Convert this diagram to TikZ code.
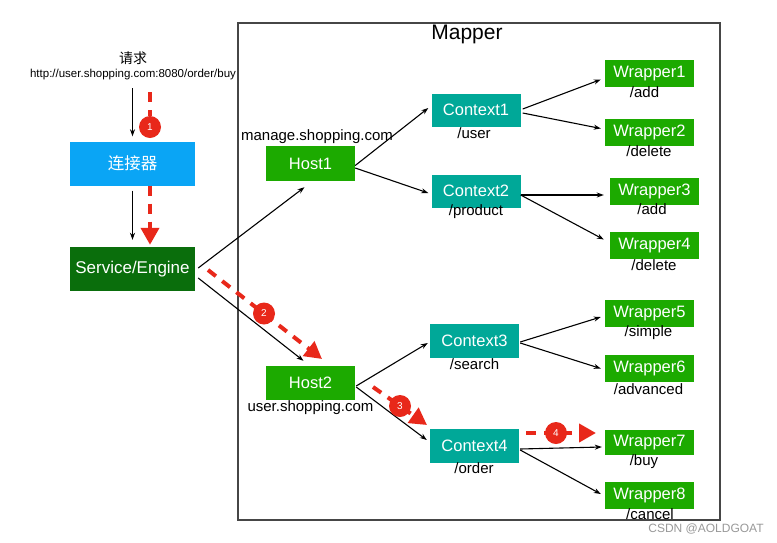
\documentclass[tikz,border=0pt]{standalone}
\usepackage{fontspec}
\setmainfont{Liberation Sans}
\newfontfamily\cjk{Noto Sans CJK SC}
\usetikzlibrary{arrows.meta,calc}
\definecolor{hostgreen}{RGB}{28,170,0}
\definecolor{ctxteal}{RGB}{0,168,152}
\definecolor{connblue}{RGB}{10,165,245}
\definecolor{svcgreen}{RGB}{10,110,12}
\definecolor{flowred}{RGB}{232,40,26}
\definecolor{framegray}{RGB}{70,70,70}
\tikzset{
  box/.style={inner sep=0pt, text=white, font=\fontsize{16.5}{18}\selectfont},
  hostbox/.style={box, fill=hostgreen, minimum width=89pt, minimum height=35pt},
  ctxbox/.style={box, fill=ctxteal, minimum width=89pt, minimum height=33pt},
  wrapbox/.style={box, fill=hostgreen, minimum width=89pt, minimum height=27pt},
  bigbox/.style={box, minimum width=125pt, minimum height=44pt, font=\fontsize{17}{19}\selectfont},
  lbl/.style={inner sep=0pt, font=\fontsize{15}{16}\selectfont},
  arr/.style={-{Stealth[length=7pt,width=5pt]}, line width=1.1pt, black},
  flow/.style={flowred, line width=4pt, dash pattern=on 10pt off 8pt, -{Triangle[length=17pt,width=18pt]}},
  flowplain/.style={flowred, line width=4pt, dash pattern=on 10pt off 8pt},
  num/.style={circle, fill=flowred, text=white, inner sep=0pt, minimum size=22pt, font=\fontsize{10}{11}\selectfont},
}
\begin{document}
\begin{tikzpicture}[x=1pt,y=-1pt]
\useasboundingbox (0,0) rectangle (777,542);
\fill[white] (0,0) rectangle (777,542);
% Mapper frame
\draw[framegray, line width=1.4pt] (238,23) rectangle (720,520);
\node[inner sep=0pt, font=\fontsize{21}{23}\selectfont] (mapper) at (467,34) {Mapper};

% left column
\node[inner sep=0pt, font=\cjk\fontsize{14}{16}\selectfont] (req) at (133,58) {请求};
\node[inner sep=0pt, font=\fontsize{11.5}{12}\selectfont] (url) at (133,75) {http://user.shopping.com:8080/order/buy};
\node[bigbox, fill=connblue, font=\cjk\fontsize{16.5}{18}\selectfont] (conn) at (132.5,163.5) {连接器};
\node[bigbox, fill=svcgreen] (svc) at (132.5,269) {Service/Engine};

% hosts, contexts, wrappers
\node[hostbox] (host1) at (310.5,163.5) {Host1};
\node[hostbox, minimum height=34pt] (host2) at (310.5,383) {Host2};
\node[ctxbox] (ctx1) at (476,110) {Context1};
\node[ctxbox] (ctx2) at (476,191) {Context2};
\node[ctxbox, minimum height=34pt] (ctx3) at (474.5,341) {Context3};
\node[ctxbox, minimum height=34pt] (ctx4) at (474.5,446) {Context4};
\node[wrapbox] (w1) at (649.5,73.5) {Wrapper1};
\node[wrapbox] (w2) at (649.5,132.5) {Wrapper2};
\node[wrapbox] (w3) at (654.5,191.5) {Wrapper3};
\node[wrapbox] (w4) at (654.5,245.5) {Wrapper4};
\node[wrapbox] (w5) at (649.5,313.5) {Wrapper5};
\node[wrapbox] (w6) at (649.5,368.5) {Wrapper6};
\node[wrapbox, minimum height=25pt] (w7) at (649.5,442.5) {Wrapper7};
\node[wrapbox] (w8) at (649.5,495.5) {Wrapper8};

% labels
\node[lbl] (l1) at (317,137) {manage.shopping.com};
\node[lbl] (l2) at (310.5,408) {user.shopping.com};
\node[lbl] (lc1) at (474,133) {/user};
\node[lbl] (lc2) at (476,212) {/product};
\node[lbl] (lc3) at (474.5,364) {/search};
\node[lbl] (lc4) at (474,468) {/order};
\node[lbl] (lw1) at (644.5,92) {/add};
\node[lbl] (lw2) at (649,151) {/delete};
\node[lbl] (lw3) at (652,209) {/add};
\node[lbl] (lw4) at (654,265) {/delete};
\node[lbl] (lw5) at (648.5,333) {/simple};
\node[lbl] (lw6) at (648.5,389) {/advanced};
\node[lbl] (lw7) at (644,462) {/buy};
\node[lbl] (lw8) at (650,514) {/cancel};

% black connectors
\coordinate (reqout) at (132.5,88);
\draw[arr] (reqout) -- ($(conn.north)+(0,-5)$);
\draw[arr] ($(conn.south)+(0,5)$) -- ($(svc.north)+(0,-7)$);
\draw[arr] ($(svc.east)+(3,-1)$) -- ($(host1.south)+(-6,6)$);
\draw[arr] ($(svc.east)+(3,9)$) -- ($(host2.north)+(-7,-5)$);
\draw[arr] ($(host1.east)+(0,2)$) -- ($(ctx1.west)+(-3,-2)$);
\draw[arr] ($(host1.east)+(0,4.5)$) -- ($(ctx2.west)+(-3,2)$);
\draw[arr] ($(ctx1.east)+(2,-1)$) -- ($(w1.west)+(-4,6)$);
\draw[arr] ($(ctx1.east)+(2,3)$) -- ($(w2.west)+(-4,-4)$);
\draw[arr] ($(ctx2.east)+(0,4)$) -- ($(w3.west)+(-6,3.5)$);
\draw[arr] ($(ctx2.east)+(0,4)$) -- ($(w4.west)+(-6,-6)$);
\draw[arr] ($(host2.east)+(1,3)$) -- ($(ctx3.west)+(-2,2)$);
\draw[arr] ($(host2.east)+(1,4)$) -- ($(ctx4.west)+(-3,-6)$);
\draw[arr] ($(ctx3.east)+(1,1)$) -- ($(w5.west)+(-4,3.5)$);
\draw[arr] ($(ctx3.east)+(1,2)$) -- ($(w6.west)+(-4,0)$);
\draw[arr] ($(ctx4.east)+(1,3)$) -- ($(w7.west)+(-3,4.5)$);
\draw[arr] ($(ctx4.east)+(1,4)$) -- ($(w8.west)+(-4,-1.5)$);

% red flow
\node[num] (n1) at (150,127) {1};
\coordinate (r1s) at (150,92);
\draw[flowplain] (r1s) -- (n1.north);
\draw[flow] ($(conn.south)+(17.5,0)$) -- ($(svc.north)+(17.5,-2)$);
\coordinate (r2s) at (208,270);
\coordinate (r2e) at (322,359);
\draw[flow] (r2s) -- (r2e);
\node[num] (n2) at (264,313.5) {2};
\coordinate (r3s) at (373,387);
\coordinate (r3e) at (427,425);
\draw[flow] (r3s) -- (r3e);
\node[num] (n3) at (400,406) {3};
\coordinate (r4s) at (526,433);
\coordinate (r4e) at (596,433);
\draw[flow] (r4s) -- (r4e);
\node[num] (n4) at (556,433) {4};

% watermark
\node[inner sep=0pt, text=black!40, font=\fontsize{12}{13}\selectfont] (wm) at (706,528.5) {CSDN @AOLDGOAT};
\end{tikzpicture}
\end{document}
